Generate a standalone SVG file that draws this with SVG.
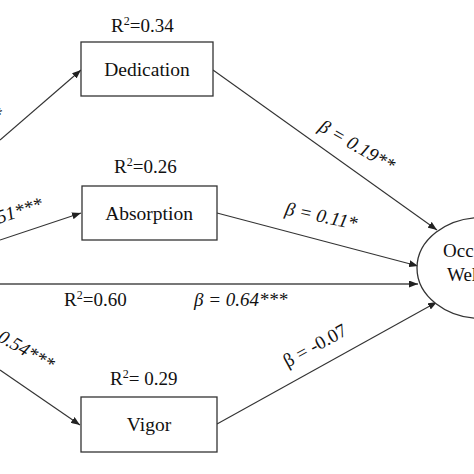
<svg xmlns="http://www.w3.org/2000/svg" width="474" height="474" viewBox="0 0 474 474">
<style>
.box{fill:#fff;stroke:#333;stroke-width:1.3}
.lbl{font-family:"Liberation Serif","Times New Roman",serif;font-size:19.5px;fill:#111;text-anchor:middle}
.r2{font-family:"Liberation Serif","Times New Roman",serif;font-size:19px;fill:#111}
.b{font-family:"Liberation Serif","Times New Roman",serif;font-size:19px;fill:#111;font-style:italic}
.br{font-family:"Liberation Serif","Times New Roman",serif;font-size:19px;fill:#111}
.ln{stroke:#333;stroke-width:1.1;fill:none;marker-end:url(#ah)}
.lnh{stroke:#777;stroke-width:2;fill:none;marker-end:url(#ah)}
</style>
<defs>
<marker id="ah" markerUnits="userSpaceOnUse" markerWidth="9" markerHeight="7" refX="9" refY="3.5" orient="auto">
<path d="M0,0 L9,3.5 L0,7 z" fill="#222"/>
</marker>
</defs>
<rect width="474" height="474" fill="#fff"/>
<g id="connectors">
<line class="ln" x1="0" y1="140" x2="81" y2="70"/>
<line class="ln" x1="0" y1="240" x2="81" y2="213"/>
<line class="ln" x1="0" y1="370" x2="80" y2="425"/>
<line class="lnh" x1="0" y1="284" x2="418" y2="284"/>
<line class="ln" x1="213" y1="70" x2="437" y2="230"/>
<line class="ln" x1="217" y1="213" x2="418" y2="266"/>
<line class="ln" x1="217" y1="424" x2="437" y2="302"/>
<text class="b" text-anchor="end" transform="translate(7,116) rotate(-41)">*</text>
<text class="b" text-anchor="end" transform="translate(44,209) rotate(-18)">51***</text>
<text class="b" text-anchor="end" transform="translate(50,371) rotate(30)">0.54***</text>
<text class="b" text-anchor="middle" transform="translate(354,151) rotate(30)">β = 0.19**</text>
<text class="b" text-anchor="middle" transform="translate(320,222) rotate(12)">β = 0.11*</text>
<text class="b" x="194" y="306">β = 0.64***</text>
<text class="br" text-anchor="middle" transform="translate(318,351) rotate(-29)">β = -0.07</text>
</g>
<g id="dedication">
<rect class="box" x="81" y="42" width="132" height="54"/>
<text class="lbl" x="147" y="76">Dedication</text>
<text class="r2" x="111" y="32">R<tspan font-size="12" dy="-7">2</tspan><tspan dy="7">=0.34</tspan></text>
</g>
<g id="absorption">
<rect class="box" x="82" y="186" width="135" height="54"/>
<text class="lbl" x="149" y="220">Absorption</text>
<text class="r2" x="114" y="173">R<tspan font-size="12" dy="-7">2</tspan><tspan dy="7">=0.26</tspan></text>
</g>
<g id="vigor">
<rect class="box" x="81" y="397" width="136" height="55"/>
<text class="lbl" x="149" y="431">Vigor</text>
<text class="r2" x="110" y="385">R<tspan font-size="12" dy="-7">2</tspan><tspan dy="7">= 0.29</tspan></text>
</g>
<g id="engagement-r2">
<text class="r2" x="64" y="306">R<tspan font-size="12" dy="-7">2</tspan><tspan dy="7">=0.60</tspan></text>
</g>
<g id="wellbeing">
<ellipse cx="482" cy="268" rx="65" ry="50.5" fill="#fff" stroke="#333" stroke-width="1.3"/>
<text class="r2" x="443" y="257" font-size="19.5">Occ</text>
<text class="r2" x="447" y="281" font-size="19.5">Wel</text>
</g>
</svg>
